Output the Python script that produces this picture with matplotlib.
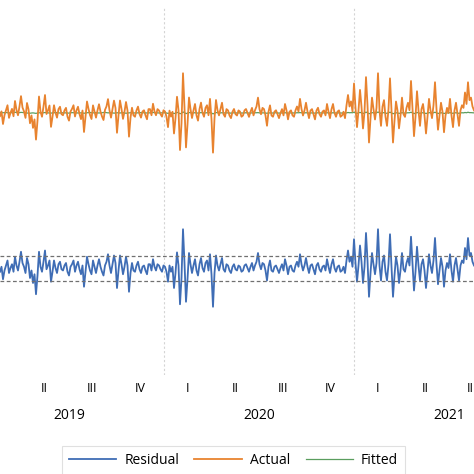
import numpy as np
import pandas as pd
import matplotlib
matplotlib.use("Agg")
import matplotlib.pyplot as plt
from matplotlib.transforms import blended_transform_factory

plt.rcParams['font.family'] = ['Open Sans', 'DejaVu Sans']

# ── Data ──────────────────────────────────────────────────────────────────────

START = "2019-02-20"
END = "2021-08-19"

residual = [
    -0.3, 0.1, -0.9, -0.2, 0.2, 0.6, -0.4, 0.0, 0.3, -0.3,
    0.9, 0.2, -0.2, 0.5, 1.3, 0.4, 0.1, -0.4, 0.8, 0.3,
    -0.8, -0.2, -1.2, -0.5, -2.1, -0.6, 1.3, 0.1, -0.3, 0.5,
    1.4, -0.1, 0.2, 0.6, -1.1, -0.3, 0.6, 0.0, -0.4, 0.3,
    0.5, -0.1, -0.2, 0.2, 0.4, -0.3, -0.6, 0.1, 0.3, 0.6,
    -0.3, 0.2, 0.5, -0.1, -0.5, 0.2, -1.5, -0.3, 0.9, 0.3,
    -0.2, -0.5, 0.6, 0.1, -0.4, 0.2, 0.7, 0.1, -0.3, -0.6,
    0.2, 0.5, 1.1, 0.2, -0.4, 0.3, 1.0, 0.4, -1.6, -0.2,
    1.0, 0.3, -0.5, 0.1, 0.9, 0.2, -1.9, -0.4, 0.4, -0.2,
    -0.3, 0.2, 0.5, -0.1, -0.4, 0.1, 0.2, -0.2, -0.5, 0.3,
    0.3, -0.2, 0.7, 0.1, -0.2, 0.3, 0.2, -0.1, -0.3, 0.2,
    0.1, -0.3, -1.1, 0.2, -0.3, 0.1, -1.6, -0.4, 1.25, 0.2,
    -2.9, -0.8, 3.1, 0.4, -2.7, -0.9, 1.2, 0.3, -0.4, 0.2,
    0.7, -0.2, -0.6, 0.3, 0.8, 0.0, -0.3, 0.4, 0.6, -0.2,
    1.1, -0.5, -3.1, -0.4, 1.0, 0.2, -0.2, 0.3, 0.8, -0.1,
    -0.3, 0.3, 0.2, -0.2, -0.4, 0.1, 0.3, -0.1, -0.2, 0.2,
    0.1, -0.3, -0.2, 0.2, 0.3, 0.0, -0.3, 0.1, 0.4, -0.2,
    0.2, 0.5, 1.2, 0.3, -0.1, 0.4, 0.3, -0.2, -1.0, 0.1,
    0.6, -0.2, -0.3, 0.1, 0.2, -0.1, -0.4, 0.0, 0.3, -0.2,
    0.7, 0.2, -0.5, 0.1, 0.2, -0.2, -0.3, 0.2, 0.5, 0.1,
    1.1, 0.3, -0.2, 0.2, 0.8, 0.1, -0.4, 0.2, 0.3, -0.1,
    -0.5, 0.2, 0.4, -0.1, -0.3, 0.1, 0.2, -0.2, 0.7, 0.1,
    -0.4, 0.3, 0.7, 0.0, -0.3, 0.1, 0.2, -0.3, -0.2, 0.1,
    -0.4, 0.6, 1.4, 0.5, 0.9, 0.1, 2.3, 0.4, -1.1, 0.2,
    1.8, 0.5, -1.2, 0.1, 2.8, 0.6, -2.3, -0.4, 1.2, 0.3,
    -0.5, 0.4, 3.1, 0.2, -1.0, 0.5, 1.0, -0.3, -1.0, 0.3,
    2.7, 0.1, -2.3, -0.6, 0.9, 0.2, -1.2, -0.2, 1.2, -0.1,
    -0.3, 0.4, 0.8, 0.2, 2.5, 0.3, -1.8, -0.3, 1.7, 0.2,
    -1.0, 0.3, 0.7, -0.2, -1.6, -0.3, 1.1, 0.2, -0.4, 0.6,
    2.4, 0.3, -1.3, -0.2, 0.8, 0.1, -1.5, -0.2, 0.4, 0.0,
    1.1, -0.2, -1.1, 0.2, 0.8, -0.1, -1.0, 0.2, 0.6, 0.4,
    1.6, 0.7, 2.4, 1.0, 1.2, 0.5, 0.2,
]

fitted = [
    0.05, 0.03, 0.02, 0.03, 0.04, 0.02, 0.01, 0.02, 0.03, 0.04,
    0.06, 0.04, 0.02, 0.03, 0.05, 0.04, 0.03, 0.01, 0.00, -0.01,
    -0.02, 0.00, 0.01, -0.01, -0.03, 0.00, 0.02, 0.01, 0.00, 0.02,
    0.04, 0.02, 0.01, 0.00, -0.01, 0.01, 0.02, 0.03, 0.03, 0.01,
    0.00, 0.01, 0.02, 0.01, 0.01, 0.00, -0.01, 0.01, 0.03, 0.02,
    0.02, 0.01, 0.00, 0.01, 0.01, 0.00, -0.02, 0.00, 0.02, 0.03,
    0.04, 0.02, 0.01, 0.02, 0.03, 0.01, 0.00, 0.01, 0.02, 0.04,
    0.05, 0.03, 0.01, 0.02, 0.03, 0.01, -0.01, 0.00, 0.02, 0.01,
    0.00, 0.02, 0.03, 0.01, -0.02, 0.00, 0.01, 0.02, 0.02, 0.01,
    0.00, 0.01, 0.01, 0.02, 0.03, 0.02, 0.02, 0.01, 0.00, 0.01,
    0.01, 0.02, 0.04, 0.03, 0.02, 0.01, 0.00, 0.01, 0.01, 0.02,
    0.02, 0.00, -0.03, -0.01, 0.01, 0.00, -0.04, -0.02, 0.05, 0.02,
    -0.06, -0.02, 0.08, 0.03, -0.05, -0.01, 0.04, 0.02, 0.00, 0.01,
    0.02, 0.01, -0.01, 0.01, 0.03, 0.02, 0.00, 0.01, 0.02, 0.02,
    0.03, 0.00, -0.07, -0.02, 0.04, 0.02, 0.01, 0.01, 0.02, 0.01,
    0.00, 0.01, 0.01, 0.00, -0.01, 0.00, 0.02, 0.01, 0.00, 0.01,
    0.01, 0.00, 0.00, 0.01, 0.02, 0.01, -0.01, 0.00, 0.01, 0.01,
    0.02, 0.02, 0.03, 0.01, 0.00, 0.01, 0.01, 0.00, -0.02, 0.00,
    0.01, 0.00, 0.00, 0.01, 0.02, 0.01, -0.01, 0.00, 0.01, 0.01,
    0.02, 0.01, -0.01, 0.00, 0.01, 0.01, 0.00, 0.01, 0.02, 0.02,
    0.03, 0.02, 0.00, 0.01, 0.02, 0.01, -0.01, 0.00, 0.01, 0.00,
    -0.01, 0.00, 0.02, 0.01, 0.00, 0.01, 0.01, 0.01, 0.02, 0.01,
    -0.01, 0.00, 0.02, 0.01, 0.00, 0.01, 0.01, 0.00, 0.00, 0.00,
    -0.01, 0.01, 0.04, 0.02, 0.03, 0.02, 0.06, 0.01, -0.03, 0.01,
    0.05, 0.01, -0.04, 0.00, 0.07, 0.02, -0.06, -0.02, 0.03, 0.01,
    -0.02, 0.01, 0.08, 0.02, -0.03, 0.01, 0.03, 0.00, -0.03, 0.01,
    0.07, 0.01, -0.06, -0.02, 0.02, 0.00, -0.03, -0.01, 0.03, 0.00,
    -0.01, 0.01, 0.02, 0.02, 0.06, 0.01, -0.05, -0.01, 0.04, 0.01,
    -0.03, 0.01, 0.02, 0.00, -0.04, -0.01, 0.03, 0.01, -0.01, 0.02,
    0.06, 0.01, -0.04, -0.01, 0.02, 0.00, -0.04, -0.01, 0.01, 0.00,
    0.03, 0.00, -0.03, 0.01, 0.02, 0.00, -0.03, 0.01, 0.02, 0.01,
    0.04, 0.02, 0.06, 0.03, 0.03, 0.02, 0.01,
]

SE = 1.0
years = [2019, 2020, 2021]
quarter_labels = ["I", "II", "III", "IV"]
legend_labels = ["Residual", "Actual", "Fitted"]

# ── Derived ───────────────────────────────────────────────────────────────────

residual = np.array(residual)
fitted = np.array(fitted)
actual = fitted + residual
dates = pd.date_range(START, END, periods=len(residual))

C_RES = "#3F6DB5"
C_ACT = "#E8832F"
C_FIT = "#5A9E5F"

# ── Plot ──────────────────────────────────────────────────────────────────────

fig = plt.figure(figsize=(4.74, 4.74), dpi=100)
ax = fig.add_axes([0, 1 - 375 / 474, 1, 367 / 474])
ax2 = ax.twinx()

l_res, = ax.plot(dates, residual, color=C_RES, lw=1.3, zorder=3)
ax.axhline(SE, color="#707070", lw=0.9, ls=(0, (3, 2)), zorder=4)
ax.axhline(-SE, color="#707070", lw=0.9, ls=(0, (3, 2)), zorder=4)

l_fit, = ax2.plot(dates, fitted, color=C_FIT, lw=0.9, zorder=2)
l_act, = ax2.plot(dates, actual, color=C_ACT, lw=1.3, zorder=3)

for y in years[1:]:
    ax.axvline(pd.Timestamp(f"{y}-01-01"), color="#d4d4d4", lw=0.8,
               ls=(0, (2, 2)), zorder=1)

x0, x1 = pd.Timestamp(START), pd.Timestamp(END)
ax.set_xlim(x0, x1)
ax.set_ylim(-8.56, 20.8)
ax2.set_ylim(-20.96, 8.4)

for a in (ax, ax2):
    for s in a.spines.values():
        s.set_visible(False)
    a.set_yticks([])
    a.set_xticks([])

trans = blended_transform_factory(ax.transData, ax.transAxes)
for y in years:
    for q in range(4):
        q0 = pd.Timestamp(year=y, month=3 * q + 1, day=1)
        q1 = q0 + pd.offsets.QuarterBegin(startingMonth=1)
        mid = q0 + (q1 - q0) / 2
        if mid < x0 or mid > x1:
            continue
        ax.text(mid, -0.038, quarter_labels[q], transform=trans,
                ha="center", va="center", fontsize=9, clip_on=False)
    y0 = pd.Timestamp(year=y, month=1, day=1)
    ymid = y0 + (pd.Timestamp(year=y + 1, month=1, day=1) - y0) / 2
    ax.text(ymid, -0.109, str(y), transform=trans,
            ha="center", va="center", fontsize=10)

leg = fig.legend([l_res, l_act, l_fit], legend_labels, loc="upper center",
                 bbox_to_anchor=(233.5 / 474, 1 - 446 / 474), ncol=3,
                 frameon=True, fancybox=False, fontsize=10,
                 handlelength=3.4, handletextpad=0.6, columnspacing=1.1,
                 borderpad=0.5, borderaxespad=0)
leg.get_frame().set_edgecolor("#d9d9d9")
leg.get_frame().set_linewidth(0.8)

fig.savefig("out.png", dpi=100)
